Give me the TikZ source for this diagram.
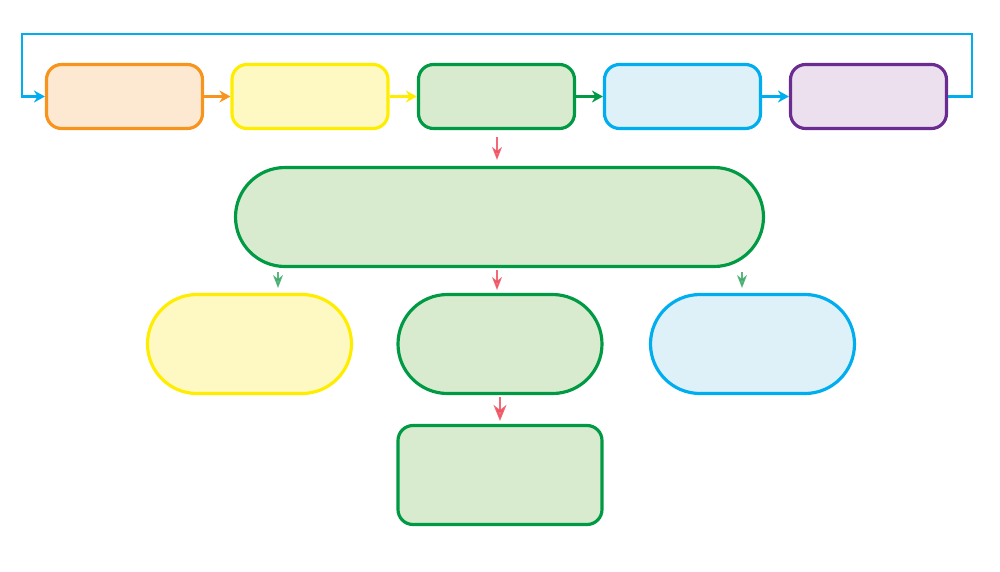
\documentclass[tikz,border=0pt]{standalone}
\usepackage{tikz}
\usetikzlibrary{arrows.meta, positioning}

\definecolor{orstroke}{HTML}{F7941D}
\definecolor{orfill}{HTML}{FDE8D2}
\definecolor{yestroke}{HTML}{FFED00}
\definecolor{yefill}{HTML}{FEF9C3}
\definecolor{grstroke}{HTML}{009A44}
\definecolor{grfill}{HTML}{D8EBCF}
\definecolor{blstroke}{HTML}{00AEEF}
\definecolor{blfill}{HTML}{DEF0F8}
\definecolor{pustroke}{HTML}{6A2C91}
\definecolor{pufill}{HTML}{ECDFEE}
\definecolor{redarrow}{HTML}{EF4F5E}
\definecolor{midgreen}{HTML}{3DAA6A}

\begin{document}
\begin{tikzpicture}[>=Stealth,
    box/.style={draw, line width=1.8pt, rounded corners=0.3cm,
      minimum width=3.12cm, minimum height=1.28cm},
    pill/.style={draw, line width=1.8pt, rounded corners=0.99cm,
      minimum width=4.08cm, minimum height=1.98cm},
    link/.style={-{Stealth[length=2.2mm, width=2.4mm]}, line width=1.7pt},
    down/.style={-{Stealth[length=2.6mm, width=2mm, inset=0.8mm]}, line width=0.9pt, draw opacity=0.85, fill opacity=0.75}]
      \useasboundingbox (0,0) rectangle (20,-11.42);

      % top row
      \node[box, draw=orstroke, fill=orfill] (or) at (2.49,-1.93) {};
      \node[box, draw=yestroke, fill=yefill] (ye) at (6.2,-1.93) {};
      \node[box, draw=grstroke, fill=grfill] (gr) at (9.93,-1.93) {};
      \node[box, draw=blstroke, fill=blfill] (bl) at (13.65,-1.93) {};
      \node[box, draw=pustroke, fill=pufill] (pu) at (17.37,-1.93) {};

      % middle and lower levels
      \node[pill, draw=grstroke, fill=grfill, minimum width=10.56cm] (big) at (9.99,-4.34) {};
      \node[pill, draw=yestroke, fill=yefill] (lf) at (4.99,-6.88) {};
      \node[pill, draw=grstroke, fill=grfill] (md) at (10.0,-6.88) {};
      \node[pill, draw=blstroke, fill=blfill] (rt) at (15.05,-6.88) {};
      \node[box, draw=grstroke, fill=grfill, minimum width=4.08cm,
        minimum height=1.98cm] (bt) at (10.0,-9.5) {};

      \draw[link, orstroke] (or) -- (ye);
      \draw[link, yestroke] (ye) -- (gr);
      \draw[link, grstroke] (gr) -- (bl);
      \draw[link, blstroke] (bl) -- (pu);

      % loop back
      \coordinate (lr) at (19.44,-0.68);
      \coordinate (ll) at (0.44,-0.68);
      \draw[link, blstroke, line width=1.6pt] (pu.east) -| (lr) -- (ll) |- (or.west);

      \coordinate (la) at (5.56,-5.86);
      \coordinate (ma) at (9.94,-5.86);
      \coordinate (ra) at (14.84,-5.86);
      \draw[down, redarrow, shorten <=0.14cm, shorten >=0.12cm] (gr.south -| ma) -- (big.north -| ma);
      \draw[down, midgreen, shorten <=0.08cm, shorten >=0.1cm] (big.south -| la) -- (la);
      \draw[down, redarrow, shorten <=0.04cm, shorten >=0.06cm] (big.south -| ma) -- (ma);
      \draw[down, midgreen, shorten <=0.08cm, shorten >=0.1cm] (big.south -| ra) -- (ra);
      \draw[down, redarrow, line width=1.2pt, -{Stealth[length=3.2mm, width=2.6mm, inset=1mm]},
        shorten <=0.04cm, shorten >=0.06cm] (md) -- (bt);
\end{tikzpicture}
\end{document}
